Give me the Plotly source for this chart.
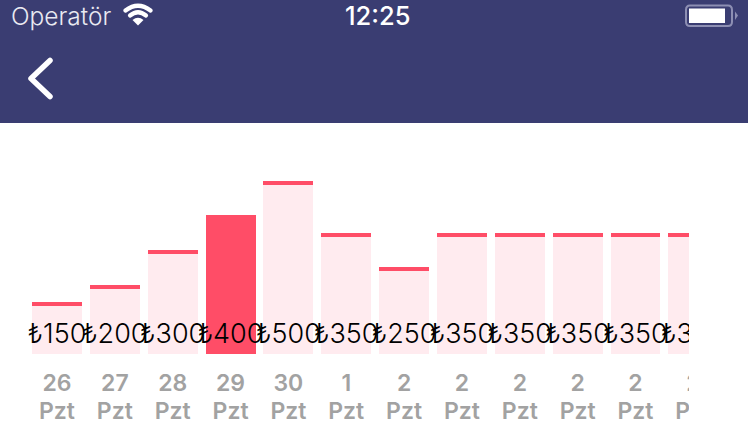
import plotly.graph_objects as go

W = 748
H = 439

days = ["26", "27", "28", "29", "30", "1", "2", "2", "2", "2", "2", "2"]
prices = [150, 200, 300, 400, 500, 350, 250, 350, 350, 350, 350, 350]
weekday = ["Pzt"] * len(days)
selected = 3

navy = "#3a3d72"
pink = "#ff4d67"
pale = "#ffebef"
grey = "#a2a2a2"

# pixel layout of the chart area
left_x = 57
pitch = 57.85
clip_x = 689
top_y = 123
zero_y = 354
per_unit = 0.347
cap = 12  # pink strip on top of each bar, in price units


def px(x):
    return x / W


def py(y):
    return 1 - y / H


def pixel_path(points):
    # points are "M x y" style tuples in screen pixels
    out = []
    for cmd, *nums in points:
        pairs = [f"{px(nums[i]):.5f},{py(nums[i + 1]):.5f}" for i in range(0, len(nums), 2)]
        out.append(cmd + " ".join(pairs))
    return " ".join(out)


xs = list(range(len(prices)))
fig = go.Figure()

fig.add_trace(go.Bar(
    x=xs, y=prices, width=0.864,
    marker=dict(color=[pink if i == selected else pale for i in xs], line_width=0),
    hoverinfo="skip",
))
fig.add_trace(go.Bar(
    x=xs, y=[cap] * len(xs), base=[p - cap for p in prices], width=0.864,
    marker=dict(color=pink, line_width=0),
    hoverinfo="skip",
))
fig.add_trace(go.Scatter(
    x=xs, y=[(zero_y - 336) / per_unit] * len(xs),
    mode="text", text=["₺" + str(p) for p in prices],
    textposition="middle center", cliponaxis=True,
    textfont=dict(family="Inter", size=27, color="black", weight=300),
    hoverinfo="skip",
))
fig.add_trace(go.Scatter(
    x=xs, y=[(zero_y - 385.5) / per_unit] * len(xs),
    mode="text", text=days,
    textposition="middle center", cliponaxis=True,
    textfont=dict(family="Inter", size=23, color=grey, weight=600),
    hoverinfo="skip",
))
fig.add_trace(go.Scatter(
    x=xs, y=[(zero_y - 413) / per_unit] * len(xs),
    mode="text", text=weekday,
    textposition="middle center", cliponaxis=True,
    textfont=dict(family="Inter", size=23, color=grey, weight=600),
    hoverinfo="skip",
))

shapes = [
    dict(type="rect", xref="paper", yref="paper", x0=0, x1=1, y0=py(123), y1=1,
         fillcolor=navy, line_width=0, layer="above"),
    # back chevron
    dict(type="path", xref="paper", yref="paper", layer="above",
         path=pixel_path([("M", 50, 60.5), ("L", 31, 78.5), ("L", 50, 96.5)]),
         line=dict(color="white", width=5.5)),
    # wifi arcs
    dict(type="path", xref="paper", yref="paper", layer="above",
         path=pixel_path([("M", 125.5, 10.5), ("Q", 138, 1, 150.5, 10.5)]),
         line=dict(color="white", width=4.2)),
    dict(type="path", xref="paper", yref="paper", layer="above",
         path=pixel_path([("M", 130, 15.5), ("Q", 138, 9, 146, 15.5)]),
         line=dict(color="white", width=4.2)),
    dict(type="path", xref="paper", yref="paper", layer="above", fillcolor="white",
         path=pixel_path([("M", 132.5, 20), ("Q", 138, 15.5, 143.5, 20), ("L", 138, 25.5)]) + " Z",
         line_width=0),
    # battery
    dict(type="path", xref="paper", yref="paper", layer="above",
         path=pixel_path([("M", 690, 5.5), ("L", 728, 5.5), ("Q", 732, 5.5, 732, 10),
                          ("L", 732, 22), ("Q", 732, 26, 728, 26), ("L", 690, 26),
                          ("Q", 686, 26, 686, 22), ("L", 686, 10), ("Q", 686, 5.5, 690, 5.5)]),
         line=dict(color="#8d8fb3", width=2)),
    dict(type="rect", xref="paper", yref="paper", layer="above",
         x0=px(689), x1=px(725), y0=py(23), y1=py(8.5), fillcolor="white", line_width=0),
    dict(type="path", xref="paper", yref="paper", layer="above", fillcolor="#8d8fb3",
         path=pixel_path([("M", 735, 11.5), ("L", 738, 15.5), ("L", 735, 20)]) + " Z",
         line_width=0),
]

annotations = [
    dict(text="Operatör", xref="paper", yref="paper", x=px(9), y=py(16),
         xanchor="left", yanchor="middle", showarrow=False,
         font=dict(family="Inter", size=24.5, color="#e9e9f1", weight=300)),
    dict(text="12:25", xref="paper", yref="paper", x=px(377.5), y=py(15.5),
         xanchor="center", yanchor="middle", showarrow=False,
         font=dict(family="Inter", size=25.5, color="white", weight=500)),
]

fig.update_layout(
    width=W, height=H,
    margin=dict(l=0, r=0, t=0, b=0),
    barmode="overlay",
    bargap=0,
    showlegend=False,
    paper_bgcolor="white",
    plot_bgcolor="white",
    shapes=shapes,
    annotations=annotations,
    xaxis=dict(domain=[0, clip_x / W], range=[-left_x / pitch, (clip_x - left_x) / pitch],
               visible=False, fixedrange=True),
    yaxis=dict(domain=[0, py(top_y)], range=[(zero_y - H) / per_unit, (zero_y - top_y) / per_unit],
               visible=False, fixedrange=True),
)

fig.write_html(
    "out.html",
    config={"displayModeBar": False},
    post_script="document.body.style.margin='0';"
                "document.querySelectorAll('.shapelayer path').forEach(function(p){p.style.strokeLinecap='round';p.style.strokeLinejoin='round';});",
)
